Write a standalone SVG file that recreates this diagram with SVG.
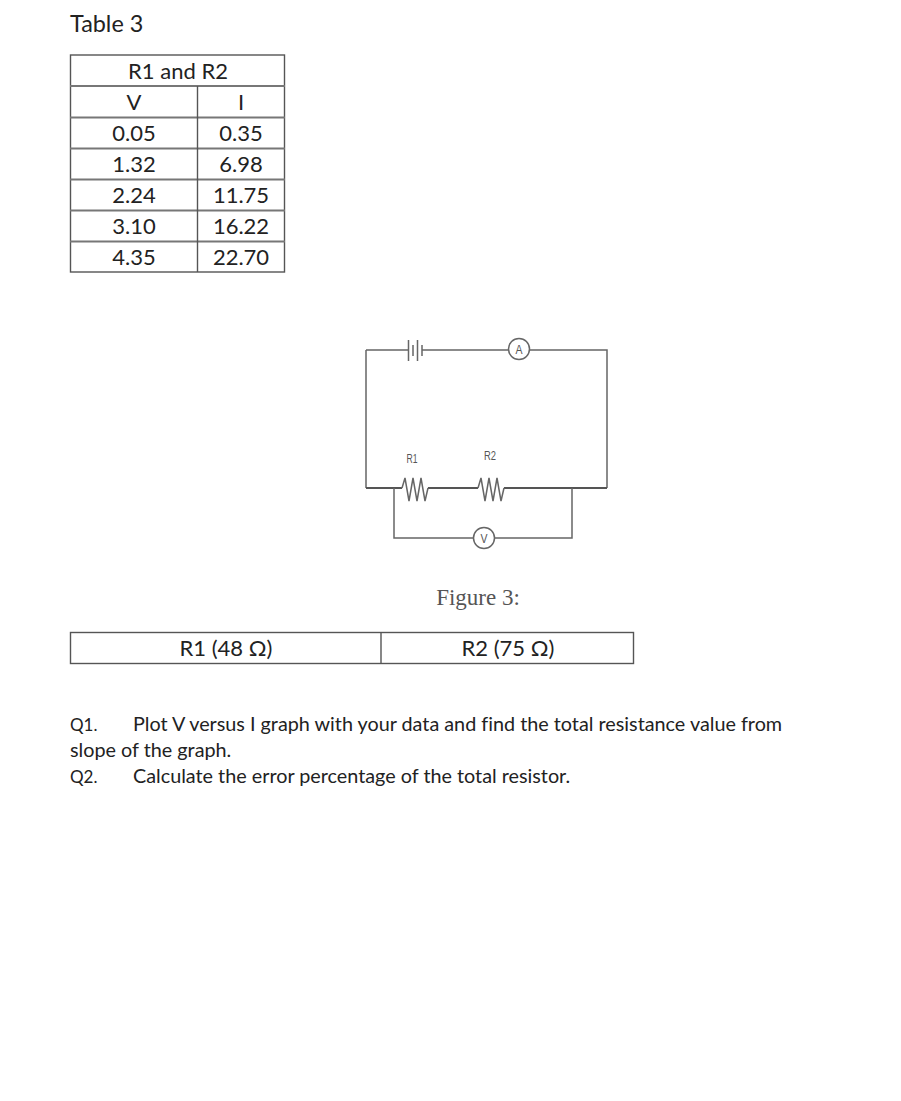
<svg xmlns="http://www.w3.org/2000/svg" width="901" height="1101" viewBox="0 0 901 1101">
<style>
text{font-family:"Lato","Carlito","Liberation Sans",sans-serif;font-size:22px;fill:#222;font-variant-ligatures:none}
.c{text-anchor:middle}
.b{stroke:#555;stroke-width:1.4;fill:none}
.g{stroke:#777;stroke-width:2;fill:none}
.w{stroke:#666;stroke-width:1.5;fill:none}
.d{stroke:#555;stroke-width:1.8;fill:none}
.s{font-family:"Liberation Sans",sans-serif;font-size:13px;fill:#555}
.f{font-family:"Liberation Serif",serif;font-size:23px;fill:#555}
.q{font-size:19.800px}
.k{font-size:17px}
.t{font-size:23.400px}
</style>
<rect width="901" height="1101" fill="#fff"/>
<text class="t" x="70" y="32">Table 3</text>
<g id="table3">
<rect class="b" x="70.500" y="55" width="214" height="217"/>
<path class="g" d="M70 86H285M70 117.500H285M70 148.500H285M70 179.500H285M70 210.500H285M70 241.500H285"/>
<path class="b" d="M197.500 86V272"/>
<text class="c" x="178" y="79">R1 and R2</text>
<text class="c" x="134" y="110">V</text><text class="c" x="241" y="110">I</text>
<text class="c" x="134" y="141">0.05</text><text class="c" x="241" y="141">0.35</text>
<text class="c" x="134" y="172">1.32</text><text class="c" x="241" y="172">6.98</text>
<text class="c" x="134" y="203">2.24</text><text class="c" x="241" y="203">11.75</text>
<text class="c" x="134" y="234">3.10</text><text class="c" x="241" y="234">16.22</text>
<text class="c" x="134" y="265">4.35</text><text class="c" x="241" y="265">22.70</text>
</g>
<g id="wires">
<path class="w" d="M408 350H366M422 350H508M530 350H607V488M366 350V488"/>
<path class="d" d="M366 488H402M428 488H478M504 488H607"/>
<path class="w" d="M394 488V538H473.500M494.500 538H572V488"/>
</g>
<g id="battery">
<path class="w" d="M408.500 340V361M413 345V356M417.500 340V361M422 345V356"/>
</g>
<g id="ammeter">
<circle class="w" cx="519" cy="349" r="10.500"/>
<text class="s c" x="519" y="354" textLength="7" lengthAdjust="spacingAndGlyphs">A</text>
</g>
<g id="voltmeter">
<circle class="w" cx="484" cy="538" r="10.500"/>
<text class="s c" x="484" y="543" textLength="7" lengthAdjust="spacingAndGlyphs">V</text>
</g>
<g id="r1">
<path class="w" d="M402 488L405 478L409 501L413 478L417 501L421 478L425 501L428 488"/>
<text class="s c" x="412" y="463" textLength="11" lengthAdjust="spacingAndGlyphs">R1</text>
</g>
<g id="r2">
<path class="w" d="M478 488L481 478L485 501L489 478L493 501L497 478L501 501L504 488"/>
<text class="s c" x="490" y="460" textLength="12" lengthAdjust="spacingAndGlyphs">R2</text>
</g>
<text class="f c" x="478" y="605">Figure 3:</text>
<g id="table-resistors">
<rect class="b" x="70.500" y="632.500" width="563" height="31"/>
<path class="b" d="M381 632V664"/>
<text class="c" x="226" y="656">R1 (48 Ω)</text>
<text class="c" x="508" y="656">R2 (75 Ω)</text>
</g>
<text class="k" x="70" y="731">Q1.</text>
<text class="q" x="133" y="731">Plot V versus I graph with your data and find the total resistance value from</text>
<text class="q" x="70" y="757">slope of the graph.</text>
<text class="k" x="70" y="783">Q2.</text>
<text class="q" x="133" y="783">Calculate the error percentage of the total resistor.</text>
</svg>
